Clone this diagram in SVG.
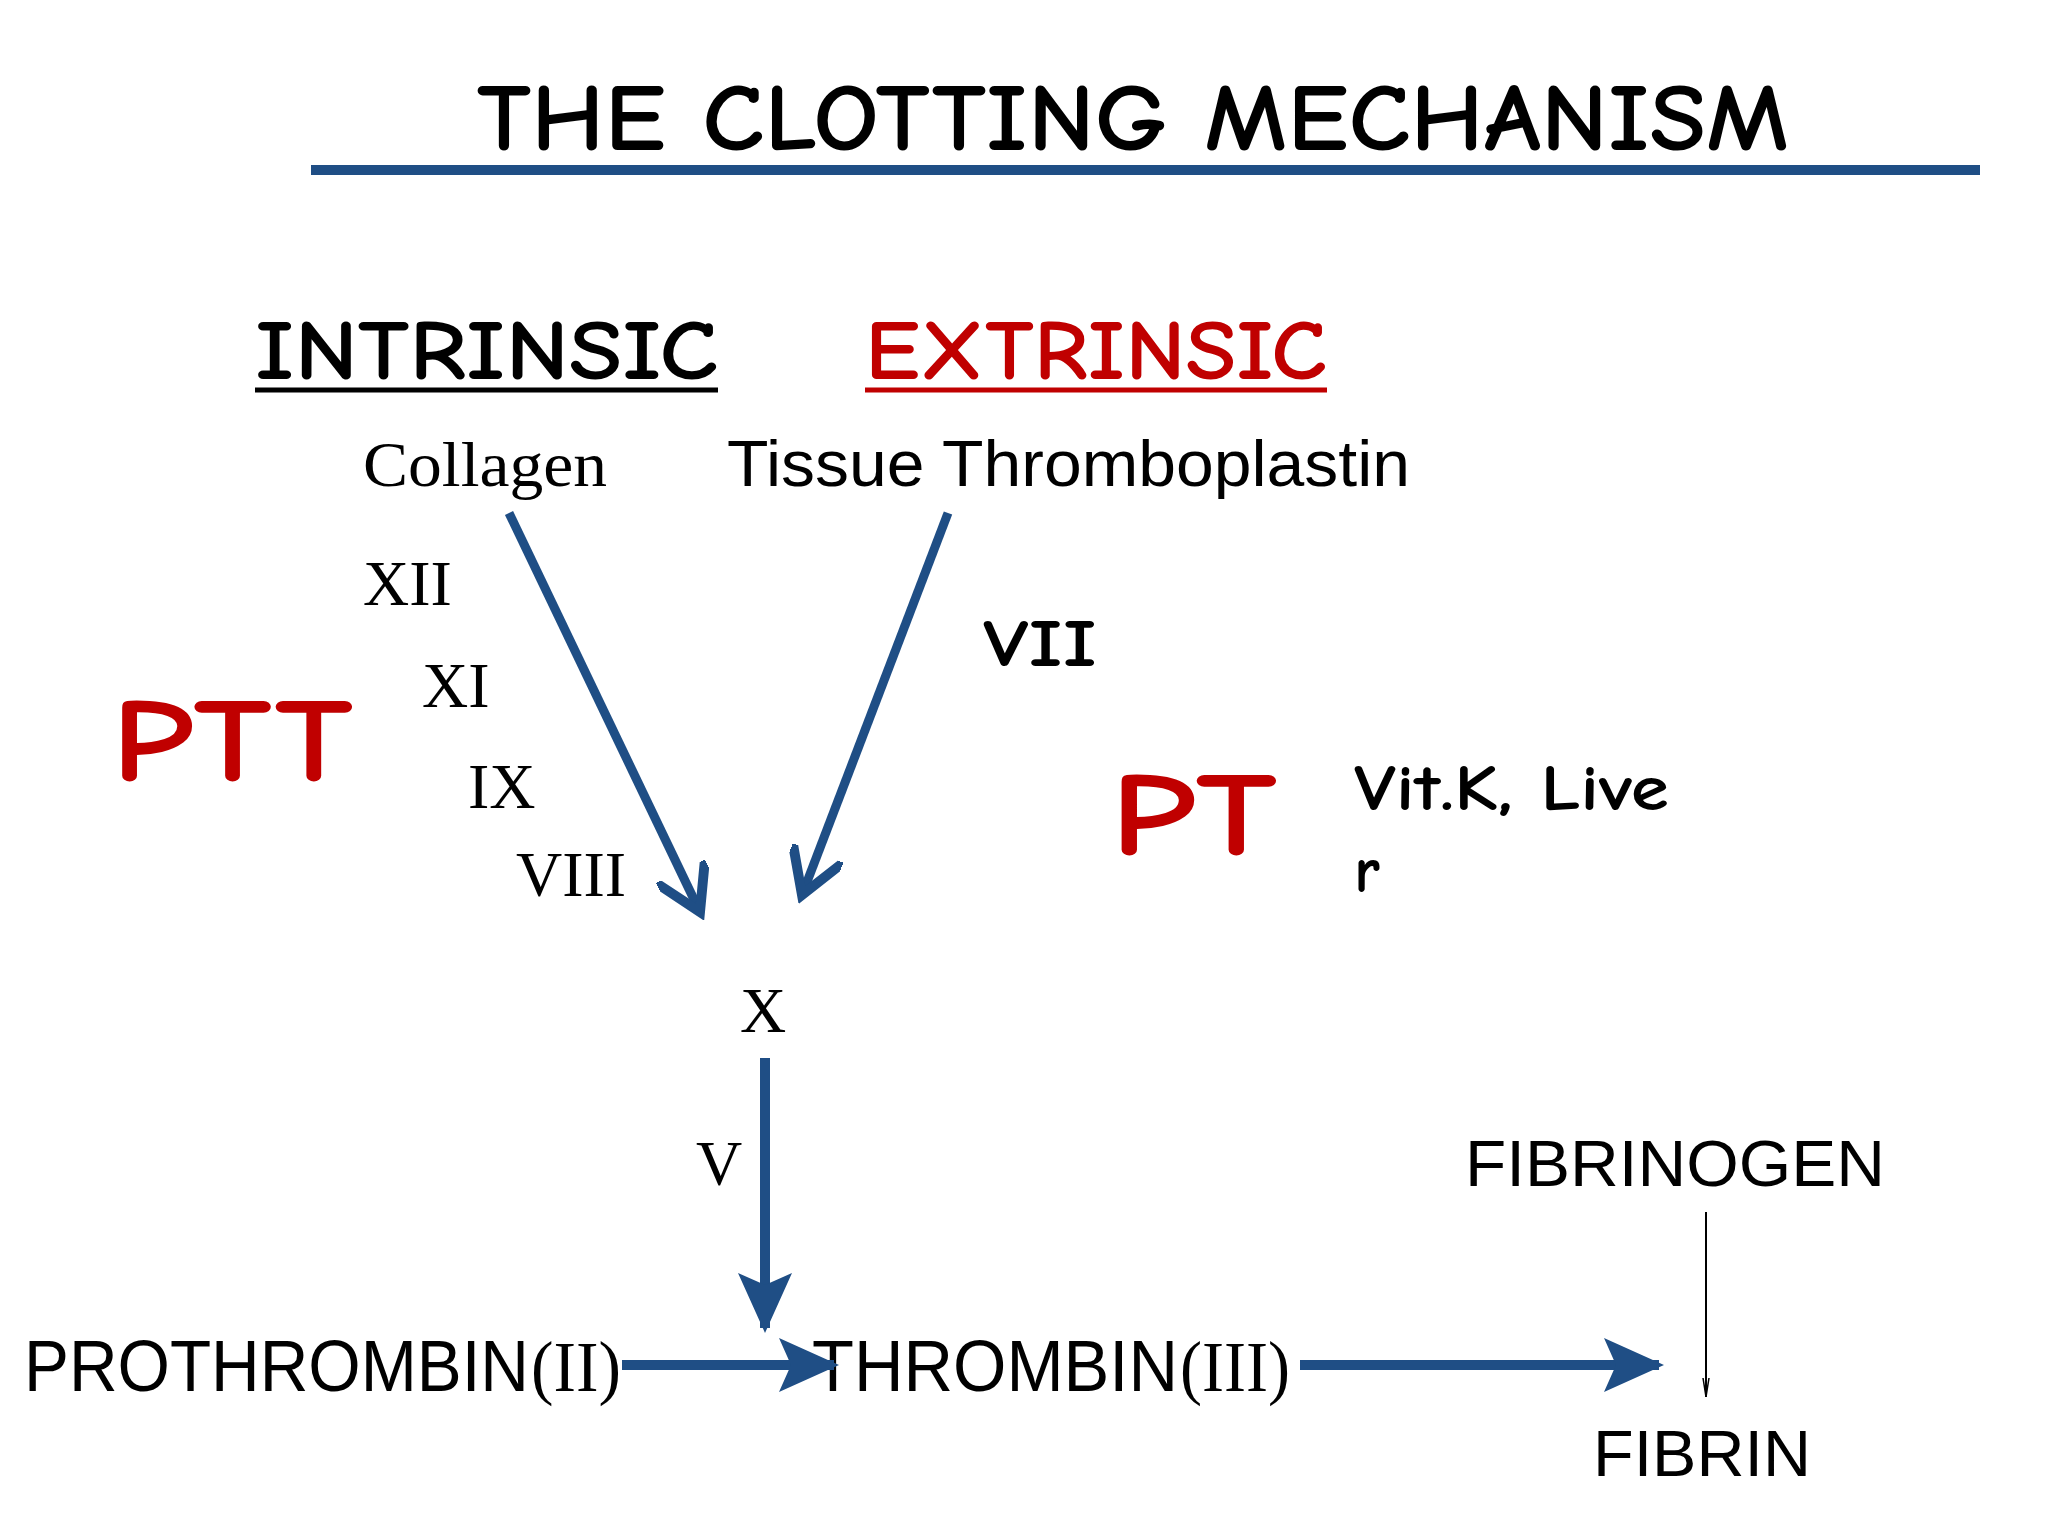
<svg xmlns="http://www.w3.org/2000/svg" width="2048" height="1536" viewBox="0 0 2048 1536">
<style>
.comic{font-family:"Comic Neue","DejaVu Sans",sans-serif;font-weight:bold}
.serif{font-family:"Liberation Serif",serif;fill:#000}
.sans{font-family:"Liberation Sans",Arial,sans-serif;fill:#000}
.red{fill:#c00000;font-weight:bold}
.bl{stroke:#1f4e85;fill:none}
</style>
<defs>
<marker id="chev" markerWidth="6" markerHeight="6" refX="5" refY="3" orient="auto" markerUnits="strokeWidth"><path d="M0,0 L5,3 L0,6" fill="none" stroke="#1f4e85" stroke-width="1.1"/></marker>
<marker id="tri" markerWidth="6" markerHeight="6" refX="5.5" refY="3" orient="auto" markerUnits="strokeWidth"><path d="M0,0.3 L6,3 L0,5.7 L1.2,3 Z" fill="#1f4e85"/></marker>
<marker id="thin" markerWidth="20" markerHeight="20" refX="19" refY="5" orient="auto" markerUnits="userSpaceOnUse"><path d="M0,2 L19,5 L0,8" fill="none" stroke="#000" stroke-width="1.5"/></marker>
</defs>
<rect width="2048" height="1536" fill="#fff"/>
<g id="title">
<text class="comic" x="477" y="150" font-size="96" textLength="1312" lengthAdjust="spacingAndGlyphs">THE CLOTTING MECHANISM</text>
<line x1="311" y1="170" x2="1980" y2="170" stroke="#1f4e85" stroke-width="10"/>
</g>
<g id="intrinsic"><text class="comic" x="255" y="379" font-size="84" textLength="463" lengthAdjust="spacingAndGlyphs">INTRINSIC</text><line x1="255" y1="390" x2="718" y2="390" stroke="#000" stroke-width="5"/></g>
<g id="extrinsic"><text class="comic" x="865" y="379" font-size="84" fill="#c00000" textLength="462" lengthAdjust="spacingAndGlyphs">EXTRINSIC</text><line x1="865" y1="390" x2="1327" y2="390" stroke="#c00000" stroke-width="5"/></g>
<g id="collagen"><text class="serif" x="363" y="486" font-size="64" textLength="244" lengthAdjust="spacingAndGlyphs">Collagen</text></g>
<g id="tissue"><text class="sans" x="727" y="486" font-size="64" textLength="683" lengthAdjust="spacingAndGlyphs">Tissue Thromboplastin</text></g>
<g id="factors">
<text class="serif" x="363" y="605" font-size="64">XII</text>
<text class="serif" x="422" y="707" font-size="64">XI</text>
<text class="serif" x="468" y="808" font-size="64">IX</text>
<text class="serif" x="516" y="896" font-size="64">VIII</text>
</g>
<g id="vii"><text class="comic" x="983" y="666" font-size="66" textLength="114" lengthAdjust="spacingAndGlyphs">VII</text></g>
<g id="ptt"><text class="comic red" x="111" y="781" font-size="120" textLength="242" lengthAdjust="spacingAndGlyphs">PTT</text></g>
<g id="pt"><text class="comic red" x="1110" y="855" font-size="120" textLength="167" lengthAdjust="spacingAndGlyphs">PT</text></g>
<g id="vitk"><text class="comic" x="1354" y="810" font-size="64" textLength="315" lengthAdjust="spacingAndGlyphs">Vit.K, Live</text><text class="comic" x="1354" y="892" font-size="64">r</text></g>
<g id="x"><text class="serif" x="740" y="1032" font-size="64">X</text></g>
<g id="v"><text class="serif" x="696" y="1185" font-size="64">V</text></g>
<g id="prothrombin"><text class="sans" x="24" y="1391" font-size="72" textLength="505" lengthAdjust="spacingAndGlyphs">PROTHROMBIN</text><text class="serif" x="531" y="1391" font-size="72" textLength="90" lengthAdjust="spacingAndGlyphs">(II)</text></g>
<g id="thrombin"><text class="sans" x="812" y="1391" font-size="72" textLength="366" lengthAdjust="spacingAndGlyphs">THROMBIN</text><text class="serif" x="1180" y="1391" font-size="72" textLength="110" lengthAdjust="spacingAndGlyphs">(III)</text></g>
<g id="fibrinogen"><text class="sans" x="1465" y="1186" font-size="64" textLength="420" lengthAdjust="spacingAndGlyphs">FIBRINOGEN</text></g>
<g id="fibrin"><text class="sans" x="1593" y="1476" font-size="64" textLength="218" lengthAdjust="spacingAndGlyphs">FIBRIN</text></g>
<g id="connectors">
<line class="bl" x1="509" y1="513" x2="700" y2="912" stroke-width="9" marker-end="url(#chev)"/>
<line class="bl" x1="948" y1="513" x2="802" y2="895" stroke-width="9" marker-end="url(#chev)"/>
<line class="bl" x1="765" y1="1058" x2="765" y2="1328" stroke-width="10" marker-end="url(#tri)"/>
<line class="bl" x1="622" y1="1365" x2="834" y2="1365" stroke-width="10" marker-end="url(#tri)"/>
<line class="bl" x1="1300" y1="1365" x2="1659" y2="1365" stroke-width="10" marker-end="url(#tri)"/>
<line x1="1706" y1="1212" x2="1706" y2="1397" stroke="#000" stroke-width="2" marker-end="url(#thin)"/>
</g>
</svg>
